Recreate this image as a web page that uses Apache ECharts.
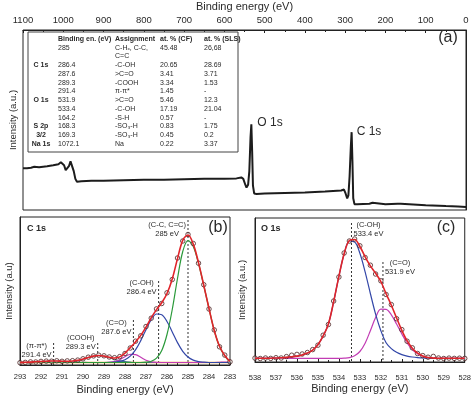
<!DOCTYPE html>
<html><head><meta charset="utf-8">
<script src="https://cdn.jsdelivr.net/npm/echarts@6/dist/echarts.min.js"></script>
<style>html,body{margin:0;padding:0;background:#fff}#c{width:474px;height:396px}</style>
</head><body><div id="c"></div>
<script>
// ---------- Panel (a): survey spectrum ----------
const surveyE = [1100,1090,1080,1076,1072,1060,1040,1025,1012,1006,1002,998,994,990,986,982,978,974,970,966,955,930,900,850,800,750,700,650,600,570,558,553,548,545,541,538,535,533,531,529,526,520,500,450,400,350,310,303,299,295,292,289,286,284,282,280,277,270,240,232,228,200,170,166,162,100,50,20,0];
const surveyI = [43,43,43.5,45,44.5,44,45,46,47,49,49.5,46,41,40,45,50,49,40,32,29,29.5,30,30,30.5,31,31,31.5,32,32,32.5,33.5,32,26,23,26,40,75,88,60,25,17,16.5,17,17.5,18,19,20,21,17,12,15,35,65,80,50,12,6,6,6.5,7.5,6.5,6,6.5,8,6.5,5,4,3.5,3];
const surveyTicks = [0,100,200,300,400,500,600,700,800,900,1000,1100];
const surveyPeakE = [533, 284];
const surveyPeakI = [88, 80];
const surveyPeakName = ['O 1s', 'C 1s'];

// inset table
const tableHeader = ['', 'Binding en. (eV)', 'Assignment', 'at. % (CF)', 'at. % (SLS)'];
const tableGroup  = ['', '', 'C 1s', '', '', '', 'O 1s', '', '', 'S 2p', '3/2', 'Na 1s'];
const tableBE     = ['285', '', '286.4', '287.6', '289.3', '291.4', '531.9', '533.4', '164.2', '168.3', '169.3', '1072.1'];
const tableAssign = ['C-H\u2093, C-C,', 'C=C', '-C-OH', '>C=O', '-COOH', '\u03c0-\u03c0*', '>C=O', '-C-OH', '-S-H', '-SO\u2083-H', '-SO\u2083-H', 'Na'];
const tableCF     = ['45.48', '', '20.65', '3.41', '3.34', '1.45', '5.46', '17.19', '0.57', '0.83', '0.45', '0.22'];
const tableSLS    = ['26,68', '', '28.69', '3.71', '1.53', '-', '12.3', '21.04', '-', '1.75', '0.2', '3.37'];

// ---------- Panel (b): C 1s ----------
const bE = [293,292.75,292.5,292.25,292,291.75,291.5,291.25,291,290.75,290.5,290.25,290,289.75,289.5,289.25,289,288.75,288.5,288.25,288,287.75,287.5,287.25,287,286.75,286.5,286.25,286,285.75,285.5,285.25,285,284.75,284.5,284.25,284,283.75,283.5,283.25,283];
const bMeasured = [2.3,2.6,3.1,3.0,3.6,3.9,3.8,4.2,3.7,4.1,4.3,4.9,6.2,7.8,9.1,9.8,9.2,8.0,7.3,8.4,11.5,17.0,23.8,29.2,38.5,46.8,56.1,61.5,72.2,85.5,107.0,124.0,130.5,121.5,101.8,80.3,56.0,35.1,18.2,9.9,3.2];
const bTotal = [2.5,2.7,2.9,3.2,3.5,3.8,4.0,4.0,3.8,3.8,4.0,4.6,5.9,7.4,8.9,9.5,8.9,7.7,7.0,8.1,11.9,17.4,23.1,29.6,37.9,47.3,55.4,62.3,71.5,86.1,106.4,124.7,130.0,120.9,102.4,79.8,56.5,34.5,18.7,9.5,3.5];
const bCC   = [2.5,2.5,2.5,2.5,2.5,2.5,2.5,2.5,2.5,2.5,2.5,2.5,2.5,2.5,2.5,2.5,2.5,2.5,2.5,2.5,2.5,2.5,2.5,2.5,2.8,3.8,6.8,14.5,30.5,55.5,86.5,113.5,124.5,118.5,101.5,79.5,56.5,34.5,18.5,9.0,3.0];
const bCOH  = [2.5,2.5,2.5,2.5,2.5,2.5,2.5,2.5,2.5,2.5,2.5,2.5,2.5,2.5,2.5,2.5,2.5,2.6,2.9,3.6,5.3,8.9,15.2,24.4,35.3,45.3,51.0,50.3,43.5,33.1,22.4,13.7,8.0,4.9,3.4,2.8,2.5,2.5,2.5,2.5,2.5];
const bCO   = [2.5,2.5,2.5,2.5,2.5,2.5,2.5,2.5,2.5,2.5,2.5,2.5,2.5,2.5,2.5,2.5,2.5,2.7,3.4,5.3,8.3,10.7,10.4,7.7,4.8,3.2,2.6,2.5,2.5,2.5,2.5,2.5,2.5,2.5,2.5,2.5,2.5,2.5,2.7,3.0,3.0];
const bCOOH = [2.5,2.5,2.5,2.5,2.5,2.5,2.5,2.5,2.5,2.8,3.3,4.2,5.7,7.4,8.9,9.5,8.9,7.4,5.7,4.2,3.3,2.8,2.5,2.5,2.5,2.5,2.5,2.5,2.5,2.5,2.5,2.5,2.5,2.5,2.5,2.5,2.5,2.5,2.5,2.5,2.5];
const bPiPi = [2.5,2.7,2.9,3.2,3.5,3.8,4.0,4.0,3.8,3.5,3.2,2.9,2.7,2.5,2.5,2.5,2.5,2.5,2.5,2.5,2.5,2.5,2.5,2.5,2.5,2.5,2.5,2.5,2.5,2.5,2.5,2.5,2.5,2.5,2.5,2.5,2.5,2.5,2.5,2.5,2.5];
const bBaseE = [293, 283];
const bBaseI = [2.5, 2.5];
const bTicks = [283,284,285,286,287,288,289,290,291,292,293];
const bPeakE = [285, 286.4, 287.6, 289.3, 291.4];
const bPeakName = ['(C-C, C=C)', '(C-OH)', '(C=O)', '(COOH)', '(\u03c0-\u03c0*)'];
const bPeakLabel = ['285 eV', '286.4 eV', '287.6 eV', '289.3 eV', '291.4 eV'];
const bLineTop = [145, 84, 45, 22, 22];
const bLabelLevel = [135.5, 77.5, 37.5, 22.5, 15];

// ---------- Panel (c): O 1s ----------
const cE = [538,537.75,537.5,537.25,537,536.75,536.5,536.25,536,535.75,535.5,535.25,535,534.75,534.5,534.25,534,533.75,533.5,533.25,533,532.75,532.5,532.25,532,531.75,531.5,531.25,531,530.75,530.5,530.25,530,529.75,529.5,529.25,529,528.75,528.5,528.25,528];
const cMeasured = [3.9,3.5,4.0,3.6,4.3,4.0,5.4,6.8,7.6,8.0,9.5,12.4,16.8,26.8,37.5,61.0,85.0,109.0,121.0,123.0,116.2,104.5,96.8,88.0,81.2,67.5,57.4,43.3,32.4,20.8,14.2,8.5,6.4,4.8,5.6,4.0,3.5,3.9,3.6,3.8,3.6];
const cTotal = [3.7,3.7,3.7,3.8,4.0,4.2,4.6,5.2,5.9,7.1,8.9,11.9,17.3,26.1,38.1,60.3,85.7,108.3,121.5,122.5,115.5,105.2,96.1,88.7,80.5,68.3,56.8,44.0,31.7,21.3,13.8,8.8,6.1,4.5,4.0,3.7,3.7,3.7,3.7,3.7,3.7];
const cCOH = [3.7,3.7,3.7,3.8,4.0,4.2,4.6,5.2,5.9,7.1,8.9,11.9,17.3,26.1,38.1,60.3,85.7,108.1,120.8,120.0,108.7,90.1,68.5,47.9,31.3,19.3,13.4,9.7,7.4,5.9,5.0,4.4,4.1,3.7,3.7,3.7,3.7,3.7,3.7,3.7,3.7];
const cCO  = [3.7,3.7,3.7,3.7,3.7,3.7,3.7,3.7,3.7,3.7,3.7,3.7,3.7,3.7,3.7,3.7,3.7,3.9,4.4,6.2,10.5,18.8,31.3,44.5,52.9,52.7,47.1,38.0,28.0,19.1,12.5,8.1,5.7,4.5,4.0,3.7,3.7,3.7,3.7,3.7,3.7];
const cPeakE = [533.4, 531.9];
const cPeakName = ['(C-OH)', '(C=O)'];
const cPeakLabel = ['533.4 eV', '531.9 eV'];
const cLineTop = [139, 100];
const cLabelLevel = [133, 94.5];

// ---------- chart ----------
const FONT = '"Liberation Sans", Arial, sans-serif';
const TXT = '#2a2a2a';
const pairs = (xs, ys) => xs.map((x, i) => [x, ys[i]]);
const chart = echarts.init(document.getElementById('c'), null, {renderer: 'canvas'});

function xAx(grid, min, max, interval, pos, fs, gap, lblMargin) {
  return {
    gridIndex: grid, type: 'value', min: min, max: max, interval: interval, inverse: true, position: pos,
    name: 'Binding energy (eV)', nameLocation: 'middle', nameGap: gap,
    nameTextStyle: {fontFamily: FONT, fontSize: 11, color: TXT},
    axisLine: {show: true, onZero: false, lineStyle: {color: '#222', width: 1}},
    axisTick: {show: true, inside: true, length: 3, lineStyle: {color: '#222'}},
    minorTick: {show: true, splitNumber: 2, length: 2, lineStyle: {color: '#222'}},
    axisLabel: {fontFamily: FONT, fontSize: fs, color: TXT, margin: lblMargin, formatter: v => String(v)},
    splitLine: {show: false}
  };
}
function yAx(grid, max, name, gap) {
  return {
    gridIndex: grid, type: 'value', min: 0, max: max,
    name: name, nameLocation: 'middle', nameGap: gap,
    nameTextStyle: {fontFamily: FONT, fontSize: 9.5, color: TXT},
    axisLine: {show: true, lineStyle: {color: '#222'}},
    axisTick: {show: false}, axisLabel: {show: false}, splitLine: {show: false}
  };
}
function lineS(xi, xs, ys, color, width, z) {
  return {type: 'line', xAxisIndex: xi, yAxisIndex: xi, data: pairs(xs, ys), showSymbol: false, symbol: 'none',
    smooth: 0.35, lineStyle: {color: color, width: width}, z: z || 2, silent: true};
}
function dashS(xi, e, top) {
  return {type: 'line', xAxisIndex: xi, yAxisIndex: xi, data: [[e, top], [e, 0]], showSymbol: false, symbol: 'none',
    lineStyle: {color: '#333', width: 1, type: [2, 2]}, z: 1, silent: true};
}
function scatS(xi, xs, ys) {
  return {type: 'scatter', xAxisIndex: xi, yAxisIndex: xi, data: pairs(xs, ys), symbol: 'circle', symbolSize: 4.5,
    itemStyle: {color: 'rgba(255,255,255,0.4)', borderColor: '#4a2020', borderWidth: 1}, z: 3, silent: true};
}

const series = [];
series.push({type: 'line', xAxisIndex: 0, yAxisIndex: 0, data: pairs(surveyE, surveyI), showSymbol: false, symbol: 'none',
  lineStyle: {color: '#1c1c1c', width: 2}, silent: true});
bPeakE.forEach((e, i) => series.push(dashS(1, e, bLineTop[i])));
series.push(lineS(1, bBaseE, bBaseI, '#f2a33a', 1.4));
series.push(lineS(1, bE, bPiPi, '#5a7fa0', 1.1));
series.push(lineS(1, bE, bCOOH, '#3b7480', 1.2));
series.push(lineS(1, bE, bCO, '#c23cb4', 1.2));
series.push(lineS(1, bE, bCOH, '#3347a8', 1.2));
series.push(lineS(1, bE, bCC, '#2b9a3a', 1.2));
series.push(scatS(1, bE, bMeasured));
series.push(lineS(1, bE, bTotal, '#e0242a', 1.6, 5));
cPeakE.forEach((e, i) => series.push(dashS(2, e, cLineTop[i])));
series.push(lineS(2, cE, cCO, '#c23cb4', 1.2));
series.push(lineS(2, cE, cCOH, '#3347a8', 1.2));
series.push(scatS(2, cE, cMeasured));
series.push(lineS(2, cE, cTotal, '#e0242a', 1.6, 5));

const gridStyle = {show: true, borderColor: '#222', borderWidth: 1, backgroundColor: 'transparent', containLabel: false};
chart.setOption({
  animation: false,
  backgroundColor: '#fff',
  grid: [
    Object.assign({left: 22, top: 25, width: 444, height: 185}, gridStyle),
    Object.assign({left: 20, top: 217, width: 210, height: 148}, gridStyle),
    Object.assign({left: 255, top: 218, width: 210, height: 144}, gridStyle)
  ],
  xAxis: [
    xAx(0, surveyTicks[0], surveyTicks[surveyTicks.length - 1], 100, 'top', 9.5, 18, 5),
    xAx(1, bTicks[0], bTicks[bTicks.length - 1], 1, 'bottom', 7.5, 19, 8),
    xAx(2, 528, 538, 1, 'bottom', 7.5, 21, 12)
  ],
  yAxis: [
    yAx(0, 185, 'Intensity (a.u.)', 5),
    yAx(1, 148, 'Intensity (a.u)', 6),
    yAx(2, 144, 'Intensity (a.u.)', 8)
  ],
  series: series
});

// ---------- annotations ----------
const ctx = document.createElement('canvas').getContext('2d');
const annFont = '7.5px ' + FONT;
ctx.font = annFont;
const bw = (a, b) => Math.max(ctx.measureText(a).width, ctx.measureText(b).width);
const G = [];
const T = (x, y, text, font, align, va, extra) => G.push(Object.assign({type: 'text', x: x, y: y, z: 100,
  style: {text: text, font: font, fill: TXT, align: align || 'left', verticalAlign: va || 'middle'}}, extra || {}));

// table
G.push({type: 'rect', z: 99, shape: {x: 28, y: 32, width: 210, height: 120},
  style: {fill: '#fff', stroke: '#444', lineWidth: 1}});
const colX = [41, 58, 115, 160, 204];
const rowY = i => 39 + i * 8.75;
const tFont = '7px ' + FONT, tBold = 'bold 7px ' + FONT;
tableHeader.forEach((h, j) => { if (h) T(colX[j], rowY(0), h, tBold); });
tableGroup.forEach((v, i) => {
  const y = rowY(i + 1);
  if (v) T(colX[0], y, v, tBold, 'center');
  if (tableBE[i]) T(colX[1], y, tableBE[i], tFont);
  if (tableAssign[i]) T(colX[2], y, tableAssign[i], tFont);
  if (tableCF[i]) T(colX[3], y, tableCF[i], tFont);
  if (tableSLS[i]) T(colX[4], y, tableSLS[i], tFont);
});

// survey peak labels
const sdx = [6, 5], sdy = [-2, 0];
surveyPeakE.forEach((e, i) => {
  const p = chart.convertToPixel({gridIndex: 0}, [e, surveyPeakI[i]]);
  T(p[0] + sdx[i], p[1] + sdy[i], surveyPeakName[i], '12px ' + FONT);
});
// b peak labels (to the left of dashed lines)
bPeakE.forEach((e, i) => {
  const p = chart.convertToPixel({gridIndex: 1}, [e, bLabelLevel[i]]);
  const w = bw(bPeakName[i], bPeakLabel[i]);
  G.push({type: 'text', x: p[0] - 2 - w / 2, y: p[1], z: 100,
    style: {text: bPeakName[i] + '\n' + bPeakLabel[i], font: annFont, fill: TXT, align: 'center', verticalAlign: 'middle', lineHeight: 9}});
});
// c peak labels (to the right of dashed lines)
cPeakE.forEach((e, i) => {
  const p = chart.convertToPixel({gridIndex: 2}, [e, cLabelLevel[i]]);
  const w = bw(cPeakName[i], cPeakLabel[i]);
  G.push({type: 'text', x: p[0] + 2 + w / 2, y: p[1], z: 100,
    style: {text: cPeakName[i] + '\n' + cPeakLabel[i], font: annFont, fill: TXT, align: 'center', verticalAlign: 'middle', lineHeight: 9}});
});
// panel tags
T(448, 38, '(a)', '16px ' + FONT, 'center');
T(218, 228, '(b)', '16px ' + FONT, 'center');
T(446, 228, '(c)', '16px ' + FONT, 'center');
T(27, 229, 'C 1s', 'bold 9px ' + FONT);
T(261, 229, 'O 1s', 'bold 9px ' + FONT);

chart.setOption({graphic: {elements: G}});
</script></body></html>
